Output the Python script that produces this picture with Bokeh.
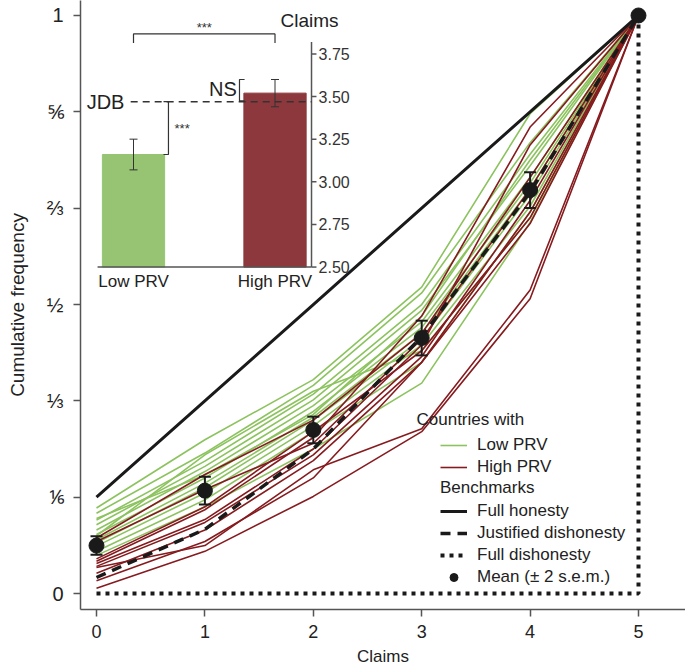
from bokeh.plotting import figure
from bokeh.models import (Range1d, FixedTicker, Legend, LegendItem, Label,
                          Whisker, TeeHead, ColumnDataSource)
from bokeh.core.properties import value
from bokeh.embed import file_html
from bokeh.resources import INLINE

# ---- data ----
claims = [0, 1, 2, 3, 4, 5]

freq_ticks = [0, 1/6, 2/6, 3/6, 4/6, 5/6, 1]
freq_labels = ["0", "⅙", "⅓", "½", "⅔", "⅚", "1"]

# cumulative frequency per country, low prevalence of rule violations
low_prv = [
    [0.148, 0.266, 0.370, 0.530, 0.830, 1],
    [0.139, 0.243, 0.360, 0.520, 0.780, 1],
    [0.127, 0.229, 0.345, 0.500, 0.760, 1],
    [0.119, 0.220, 0.335, 0.490, 0.740, 1],
    [0.110, 0.211, 0.325, 0.470, 0.720, 1],
    [0.102, 0.200, 0.315, 0.460, 0.710, 1],
    [0.093, 0.191, 0.305, 0.450, 0.700, 1],
    [0.088, 0.183, 0.300, 0.440, 0.690, 1],
    [0.082, 0.174, 0.290, 0.430, 0.670, 1],
    [0.073, 0.162, 0.280, 0.400, 0.660, 1],
    [0.066, 0.150, 0.250, 0.364, 0.642, 1],
    [0.130, 0.205, 0.310, 0.480, 0.750, 1],
    [0.100, 0.240, 0.350, 0.420, 0.650, 1],
]

# high prevalence of rule violations
high_prv = [
    [0.096, 0.206, 0.300, 0.450, 0.720, 1],
    [0.056, 0.145, 0.270, 0.480, 0.807, 1],
    [0.052, 0.128, 0.250, 0.430, 0.776, 1],
    [0.047, 0.123, 0.240, 0.410, 0.680, 1],
    [0.022, 0.090, 0.200, 0.400, 0.660, 1],
    [0.009, 0.073, 0.168, 0.280, 0.510, 1],
    [0.045, 0.083, 0.214, 0.285, 0.525, 1],
    [0.060, 0.150, 0.280, 0.420, 0.650, 1],
    [0.035, 0.110, 0.230, 0.400, 0.640, 1],
    [0.090, 0.180, 0.260, 0.440, 0.700, 1],
]

full_honesty = [1/6, 2/6, 3/6, 4/6, 5/6, 1]
justified = [1/36, 4/36, 9/36, 16/36, 25/36, 1]
full_dis_x = [0, 5, 5]
full_dis_y = [0, 0, 1]

mean_freq = [0.083, 0.178, 0.283, 0.442, 0.698, 1.0]
mean_err = [0.016, 0.024, 0.023, 0.030, 0.031, 0.0]

# inset: mean claims
groups = ["Low PRV", "High PRV"]
group_pos = [0, 1]
group_claims = [3.16, 3.52]
group_err = [0.09, 0.08]
jdb = 3.47
inset_ticks = [2.50, 2.75, 3.00, 3.25, 3.50, 3.75]

FONT = "Liberation Sans"
INK = "#1a1a1a"
AXIS = "#555555"
TXT = "#222222"
GREEN = "#8cc35e"
RED = "#861b1f"
BAR_COLORS = ["#96c473", "#8c383c"]


def main():
    p = figure(width=685, height=668, output_backend="svg", toolbar_location=None,
               x_range=Range1d(-0.1476, 5.4336), y_range=Range1d(-0.0276, 1.0259),
               min_border_left=80, min_border_right=0, min_border_top=0,
               min_border_bottom=58)
    p.extra_x_ranges = {"inset": Range1d(-0.3746, 3.901)}
    p.extra_y_ranges = {"claims": Range1d(0.4918, 4.0632)}
    p.outline_line_color = None
    p.grid.visible = False

    p.xaxis.ticker = FixedTicker(ticks=claims)
    p.yaxis.ticker = FixedTicker(ticks=freq_ticks)
    p.yaxis.major_label_overrides = dict(zip(freq_ticks, freq_labels))
    p.xaxis.axis_label = "Claims"
    p.yaxis.axis_label = "Cumulative frequency"
    p.axis.axis_line_color = AXIS
    p.axis.axis_line_width = 1.5
    p.axis.major_tick_line_color = AXIS
    p.axis.major_tick_line_width = 1.5
    p.axis.major_tick_out = 7
    p.axis.major_tick_in = 0
    p.axis.minor_tick_line_color = None
    p.axis.major_label_text_font = FONT
    p.axis.major_label_text_font_size = "18px"
    p.yaxis.major_label_text_font_size = "20px"
    p.axis.major_label_text_color = TXT
    p.axis.axis_label_text_font = FONT
    p.xaxis.axis_label_text_font_size = "17px"
    p.yaxis.axis_label_text_font_size = "19px"
    p.axis.axis_label_text_font_style = "normal"
    p.axis.axis_label_text_color = TXT
    p.yaxis.major_label_standoff = 10
    p.xaxis.major_label_standoff = 8
    p.yaxis.axis_label_standoff = 16
    p.xaxis.axis_label_standoff = 6

    # country lines
    green_r = p.multi_line([claims] * len(low_prv), low_prv, line_color=GREEN, line_width=1.6)
    red_r = p.multi_line([claims] * len(high_prv), high_prv, line_color=RED, line_width=1.6)

    # benchmarks
    honest_r = p.line(claims, full_honesty, line_color=INK, line_width=3)
    jd_r = p.line(claims, justified, line_color=INK, line_width=3.5, line_dash="10 7")
    fd_r = p.line(full_dis_x, full_dis_y, line_color=INK, line_width=4, line_dash="4 5")

    # means with error bars
    n = len(claims) - 1
    err_src = ColumnDataSource(dict(
        x=claims[:n],
        lower=[m - e for m, e in zip(mean_freq[:n], mean_err[:n])],
        upper=[m + e for m, e in zip(mean_freq[:n], mean_err[:n])],
    ))
    p.add_layout(Whisker(source=err_src, base="x", lower="lower", upper="upper",
                         line_color=INK, line_width=2, level="overlay",
                         upper_head=TeeHead(size=12, line_color=INK, line_width=2),
                         lower_head=TeeHead(size=12, line_color=INK, line_width=2)))
    mean_r = p.scatter(claims, mean_freq, size=15, color=INK)

    # ---- inset bar chart ----
    kw = dict(x_range_name="inset", y_range_name="claims")
    base = inset_ticks[0]
    axis_x = 1.258
    p.vbar(x=group_pos, top=group_claims, bottom=base, width=0.44,
           color=BAR_COLORS, **kw)
    bar_src = ColumnDataSource(dict(
        x=group_pos,
        lower=[c - e for c, e in zip(group_claims, group_err)],
        upper=[c + e for c, e in zip(group_claims, group_err)],
    ))
    p.add_layout(Whisker(source=bar_src, base="x", lower="lower", upper="upper",
                         line_color="#333333", line_width=1, level="overlay",
                         upper_head=TeeHead(size=8, line_color="#333333", line_width=1),
                         lower_head=TeeHead(size=8, line_color="#333333", line_width=1),
                         **kw))

    # inset axis
    p.line([-0.254, axis_x], [base, base], line_color=AXIS, line_width=1.5, **kw)
    p.line([axis_x, axis_x], [base, 3.82], line_color=AXIS, line_width=1.5, **kw)
    p.segment(x0=[axis_x] * len(inset_ticks), y0=inset_ticks,
              x1=[axis_x + 0.035] * len(inset_ticks), y1=inset_ticks,
              line_color=AXIS, line_width=1.5, **kw)
    p.text(x=[axis_x + 0.05] * len(inset_ticks), y=inset_ticks,
           text=["%.2f" % t for t in inset_ticks],
           text_font=value(FONT), text_font_size="16px", text_color="#333333",
           text_align="left", text_baseline="middle", **kw)
    p.text(x=[1.244], y=[3.946], text=["Claims"], text_font=value(FONT),
           text_font_size="19px", text_color=TXT, text_align="center",
           text_baseline="middle", **kw)
    p.text(x=group_pos, y=[2.418, 2.418], text=groups, text_font=value(FONT),
           text_font_size="17px", text_color=TXT, text_align="center",
           text_baseline="middle", **kw)

    # JDB reference line
    p.line([-0.02, axis_x], [jdb, jdb], line_color="#333333", line_width=1.5,
           line_dash="7 5", **kw)
    p.text(x=[-0.064], y=[jdb], text=["JDB"], text_font=value(FONT),
           text_font_size="20px", text_color=TXT, text_align="right",
           text_baseline="middle", **kw)

    # significance brackets
    top_y, drop_y = 3.867, 3.814
    p.line([group_pos[0], group_pos[0], group_pos[1], group_pos[1]],
           [drop_y, top_y, top_y, drop_y], line_color="#333333", line_width=1.2, **kw)
    p.text(x=[0.5], y=[3.905], text=["***"], text_font=value(FONT),
           text_font_size="13px", text_color="#333333", text_align="center",
           text_baseline="middle", **kw)
    p.line([0.212, 0.247, 0.247, 0.212], [jdb, jdb, group_claims[0], group_claims[0]],
           line_color="#333333", line_width=1.2, **kw)
    p.text(x=[0.29], y=[3.31], text=["***"], text_font=value(FONT),
           text_font_size="13px", text_color="#333333", text_align="left",
           text_baseline="middle", **kw)
    p.line([0.785, 0.749, 0.749, 0.785], [3.60, 3.60, 3.475, 3.475],
           line_color="#333333", line_width=1.2, **kw)
    p.text(x=[0.73], y=[3.545], text=["NS"], text_font=value(FONT),
           text_font_size="20px", text_color=TXT, text_align="right",
           text_baseline="middle", **kw)

    # ---- legends ----
    style = dict(border_line_color=None, background_fill_alpha=0, padding=0,
                 margin=0, spacing=2, glyph_width=27, glyph_height=20,
                 label_height=20, label_standoff=10, label_text_font=FONT,
                 label_text_font_size="17px", label_text_color=TXT)
    leg_a = Legend(items=[LegendItem(label="Low PRV", renderers=[green_r]),
                          LegendItem(label="High PRV", renderers=[red_r])],
                   location=(360, 132), **style)
    leg_b = Legend(title="Benchmarks",
                   items=[LegendItem(label="Full honesty", renderers=[honest_r]),
                          LegendItem(label="Justified dishonesty", renderers=[jd_r]),
                          LegendItem(label="Full dishonesty", renderers=[fd_r]),
                          LegendItem(label="Mean (± 2 s.e.m.)", renderers=[mean_r])],
                   location=(360, 22), title_text_font=FONT,
                   title_text_font_size="17px", title_text_font_style="normal",
                   title_text_color=TXT, title_standoff=3, **style)
    p.add_layout(leg_a)
    p.add_layout(leg_b)
    p.add_layout(Label(x=2.952, y=0.3005, text="Countries with", text_font=FONT,
                       text_font_size="17px", text_color=TXT,
                       text_baseline="middle"))

    open("out.html", "w").write(file_html(p, INLINE))


if __name__ == "__main__":
    main()
